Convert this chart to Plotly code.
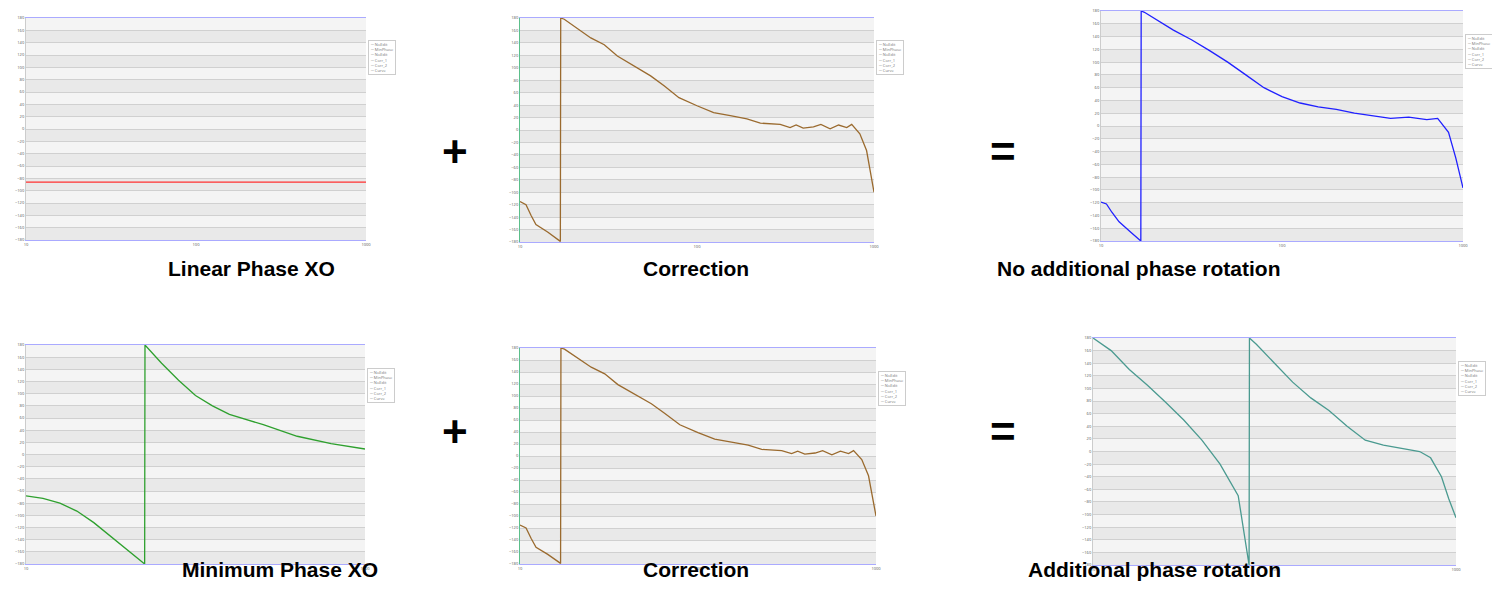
import plotly.graph_objects as go

# phase curves, x in % of span (log frequency), y in degrees
lin_x = [0, 100]
lin_y = [-86, -86]

corr_x = [0, 1.7, 3.1, 4.5, 7.8, 11.4, 11.5, 12.5, 20, 23.8, 27.5, 33.1, 36.9, 40.7, 44.9, 50, 54.7, 59.4,
          64.1, 67.9, 73.5, 76.3, 78, 80, 82.9, 85, 87.6, 90, 92.3, 93.7, 96, 97.9, 98.9, 100]
corr_y = [-115, -120, -137, -152, -164, -179, 180, 178, 148, 137, 119, 100, 87, 71, 52, 39, 28, 23,
          18, 11, 9, 4, 8, 3, 5, 9, 2, 8, 4, 9, -6, -33, -65, -100]

minp_x = [0, 5, 10, 15, 20, 25, 30, 35, 35.1, 40, 45, 50, 55, 60, 70, 80, 90, 100]
minp_y = [-68, -72, -80, -93, -112, -135, -158, -180, 180, 150, 122, 97, 80, 66, 49, 30, 18, 9]

res1_x = [0, 1.5, 3, 5, 8, 11, 11.1, 12, 20, 25, 30, 35, 40, 45, 50, 55, 60, 65, 70, 75, 80, 85, 90, 93, 96,
          98, 100]
res1_y = [-119, -122, -135, -150, -165, -180, 180, 178, 150, 135, 118, 100, 80, 60, 46, 36, 30, 26, 20, 16,
          12, 14, 10, 12, -10, -50, -97]

res2_x = [0, 5, 10, 15, 20, 25, 30, 35, 40, 43, 43.1, 45, 50, 55, 60, 65, 70, 75, 80, 85, 90, 93, 96, 98, 100]
res2_y = [180, 160, 130, 105, 78, 50, 18, -20, -70, -180, 180, 170, 140, 110, 85, 65, 40, 18, 10, 5, 0,
          -10, -40, -75, -105]

labels = ["Linear Phase XO", "Correction", "No additional phase rotation",
          "Minimum Phase XO", "Correction", "Additional phase rotation"]

W, H = 1500, 610
boxes = [(18, 358, 10, 232), (512, 866, 10, 234), (1093, 1455, 3, 233),
         (18, 357, 337, 556), (512, 868, 340, 556), (1085, 1448, 330, 557)]
label_pos = [(158, 260), (688, 260), (1275, 260), (172, 575), (688, 575), (1275, 575)]
series = [(lin_x, lin_y, "#ff3030"), (corr_x, corr_y, "#9a6a2e"), (res1_x, res1_y, "#2020ff"),
          (minp_x, minp_y, "#2ea02e"), (corr_x, corr_y, "#9a6a2e"), (res2_x, res2_y, "#4a9a90")]

fig = go.Figure()
shapes = []
annots = []
for i, ((x0, x1, y0, y1), (sx, sy, col)) in enumerate(zip(boxes, series)):
    n = "" if i == 0 else str(i + 1)
    fig.add_trace(go.Scatter(x=sx, y=sy, mode="lines", line=dict(color=col, width=1.3),
                             xaxis="x" + n, yaxis="y" + n, showlegend=False))
    fig.layout["xaxis" + n] = dict(domain=[x0 / W, x1 / W], range=[0, 100], anchor="y" + n,
                                   showgrid=False, zeroline=False, tickvals=[0, 50, 100],
                                   ticktext=["10", "100", "1000"], tickfont=dict(size=4, color="#555"),
                                   showline=True, linecolor="#aaaaff", mirror=True, automargin=False)
    fig.layout["yaxis" + n] = dict(domain=[1 - y1 / H, 1 - y0 / H], range=[-180, 180], anchor="x" + n,
                                   showgrid=True, gridcolor="#d0d0d0", zeroline=False,
                                   dtick=20, tickfont=dict(size=4, color="#555"), automargin=False,
                                   showline=True, linecolor="#5cbf8a" if i in (1, 4) else "#cccccc")
    for k in range(18):
        if k % 2 == 0:
            shapes.append(dict(type="rect", xref="x" + n + " domain", yref="y" + n,
                               x0=0, x1=1, y0=-180 + k * 20, y1=-160 + k * 20,
                               fillcolor="#e9e9e9", line_width=0, layer="below"))
    # small legend box
    annots.append(dict(x=(x1 + 2) / W, y=1 - (y0 + 40) / H, xref="paper", yref="paper",
                       xanchor="left", yanchor="middle", showarrow=False, align="left",
                       text="\u2500 NoEdit<br>\u2500 MinPhase<br>\u2500 NoEdit<br>\u2500 Corr_1<br>\u2500 Corr_2<br>\u2500 Curve",
                       font=dict(size=4, color="#777"), bordercolor="#cccccc", borderwidth=1,
                       bgcolor="white"))
    lx, ly = label_pos[i]
    annots.append(dict(x=lx / W, y=1 - ly / H, xref="paper", yref="paper",
                       text="<b>%s</b>" % labels[i], showarrow=False,
                       font=dict(size=21, color="black", family="Liberation Sans")))

for cx in (432, 995):
    for cy in (117, 450):
        annots.append(dict(x=cx / W, y=1 - cy / H, xref="paper", yref="paper", showarrow=False,
                           text="<b>%s</b>" % ("+" if cx == 432 else "="),
                           font=dict(size=44, color="black", family="Liberation Sans")))

fig.update_layout(width=W, height=H, margin=dict(l=0, r=0, t=0, b=0), paper_bgcolor="white",
                  plot_bgcolor="#f4f4f4", shapes=shapes, annotations=annots)
fig.write_html("out.html")
